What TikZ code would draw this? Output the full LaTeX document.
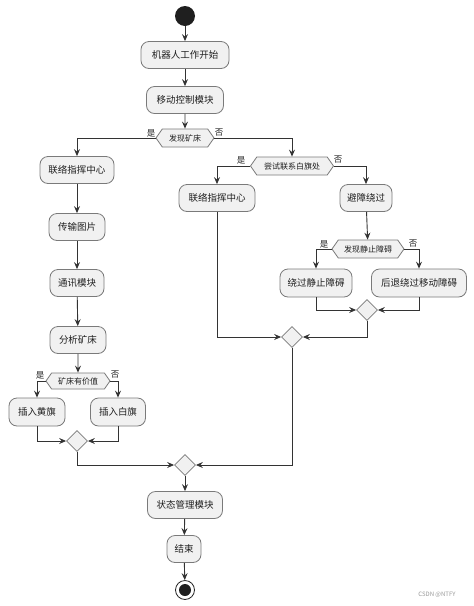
\documentclass[tikz,border=0pt]{standalone}
\usepackage{fontspec}
\setmainfont{Noto Sans CJK SC}
\usetikzlibrary{arrows.meta,shapes.geometric,shapes.symbols}
\definecolor{boxfill}{HTML}{F1F1F1}
\definecolor{boxline}{HTML}{7A7A7A}
\definecolor{edge}{HTML}{333333}
\tikzset{
  act/.style={draw=boxline, fill=boxfill, rounded corners=8pt, line width=0.8pt,
    minimum height=27pt, inner sep=0pt, font=\fontsize{9.5}{10}\selectfont, text=black!88},
  hexa/.style={draw=boxline, fill=boxfill, signal, signal to=east and west,
    signal pointer angle=110, line width=0.8pt, inner sep=0pt, minimum height=18pt,
    font=\fontsize{8}{9}\selectfont, text=black!88},
  merge/.style={draw=boxline, fill=boxfill, diamond, minimum size=21pt, inner sep=0pt, line width=0.8pt},
  lbl/.style={font=\fontsize{8.5}{9}\selectfont, inner sep=0pt, text=black!88},
  flow/.style={draw=edge, line width=0.9pt, -{Stealth[length=7pt,width=6pt,inset=2.5pt]}},
  plain/.style={draw=edge, line width=0.9pt}
}
\begin{document}
\begin{tikzpicture}[x=1pt,y=-1pt]
\useasboundingbox (0,0) rectangle (474,606);
\fill[white] (0,0) rectangle (474,606);
% start
\node[circle, fill=black!88, minimum size=20pt, inner sep=0pt] (st) at (185,16) {};
\node[act, minimum width=88pt] (n1) at (185,55) {机器人工作开始};
\node[act, minimum width=77pt] (n2) at (185,100) {移动控制模块};
\node[hexa, minimum width=58pt] (d1) at (185,138) {发现矿床};
% left branch
\node[act, minimum width=74pt] (L1) at (77,170) {联络指挥中心};
\node[act, minimum width=56pt] (L2) at (77,227) {传输图片};
\node[act, minimum width=54pt] (L3) at (77,283) {通讯模块};
\node[act, minimum width=56pt] (L4) at (78,340) {分析矿床};
\node[hexa, minimum width=64pt, minimum height=16pt] (d2) at (78,381) {矿床有价值};
\node[act, minimum width=56pt, minimum height=28pt] (Y) at (37,412) {插入黄旗};
\node[act, minimum width=55pt, minimum height=28pt] (W) at (118,412) {插入白旗};
\node[merge] (m1) at (77,441) {};
% right branch
\node[hexa, minimum width=83pt] (d3) at (292,166) {尝试联系白旗处};
\node[act, minimum width=76pt] (R1) at (217,198) {联络指挥中心};
\node[act, minimum width=52pt] (R2) at (366,198) {避障绕过};
\node[hexa, minimum width=72pt] (d4) at (368,249) {发现静止障碍};
\node[act, minimum width=72pt, minimum height=28pt] (R3) at (316,283) {绕过静止障碍};
\node[act, minimum width=95pt, minimum height=28pt] (R4) at (419,283) {后退绕过移动障碍};
\node[merge] (m2) at (367,310) {};
\node[merge] (m3) at (292,337) {};
% bottom
\node[merge] (m4) at (185,465) {};
\node[act, minimum width=75pt] (S) at (185,505) {状态管理模块};
\node[act, minimum width=34pt] (E) at (184,549) {结束};
\node[circle, draw=black!85, fill=white, line width=0.8pt, minimum size=19pt, inner sep=0pt] (en) at (185,590) {};
\node[circle, fill=black!88, minimum size=12pt, inner sep=0pt] (eni) at (en) {};
% labels
\node[lbl] (y1) at (151,133) {是};
\node[lbl] (o1) at (219,133) {否};
\node[lbl] (y2) at (40,375) {是};
\node[lbl] (o2) at (115,375) {否};
\node[lbl] (y3) at (241,160) {是};
\node[lbl] (o3) at (338,160) {否};
\node[lbl] (y4) at (324,244) {是};
\node[lbl] (o4) at (413,244) {否};
% edges
\draw[flow] (st) -- (n1);
\draw[flow] (n1) -- (n2);
\draw[flow] (n2) -- (d1);
\draw[flow] (d1.west) -| (L1.north);
\draw[flow] (d1.east) -| (d3.north);
\draw[flow] (L1) -- (L2);
\draw[flow] (L2) -- (L3);
\draw[flow] (L3) -- (L4);
\draw[flow] (L4) -- (d2);
\draw[flow] (d2.west) -| (Y.north);
\draw[flow] (d2.east) -| (W.north);
\draw[flow] (Y.south) |- (m1.west);
\draw[flow] (W.south) |- (m1.east);
\draw[flow] (m1.south) |- (m4.west);
\draw[flow] (d3.west) -| (R1.north);
\draw[flow] (d3.east) -| (R2.north);
\draw[flow] (R2) -- (d4);
\draw[flow] (d4.west) -| (R3.north);
\draw[flow] (d4.east) -| (R4.north);
\draw[flow] (R3.south) |- (m2.west);
\draw[flow] (R4.south) |- (m2.east);
\draw[flow] (m2.south) |- (m3.east);
\draw[flow] (R1.south) |- (m3.west);
\draw[flow] (m3.south) |- (m4.east);
\draw[flow] (m4) -- (S);
\draw[flow] (S) -- (E);
\draw[flow] (E) -- (en);
% watermark
\node[font=\fontsize{6}{7}\selectfont, text=black!40, inner sep=0pt] (wm) at (437,595) {CSDN @NTFY};
\end{tikzpicture}
\end{document}
